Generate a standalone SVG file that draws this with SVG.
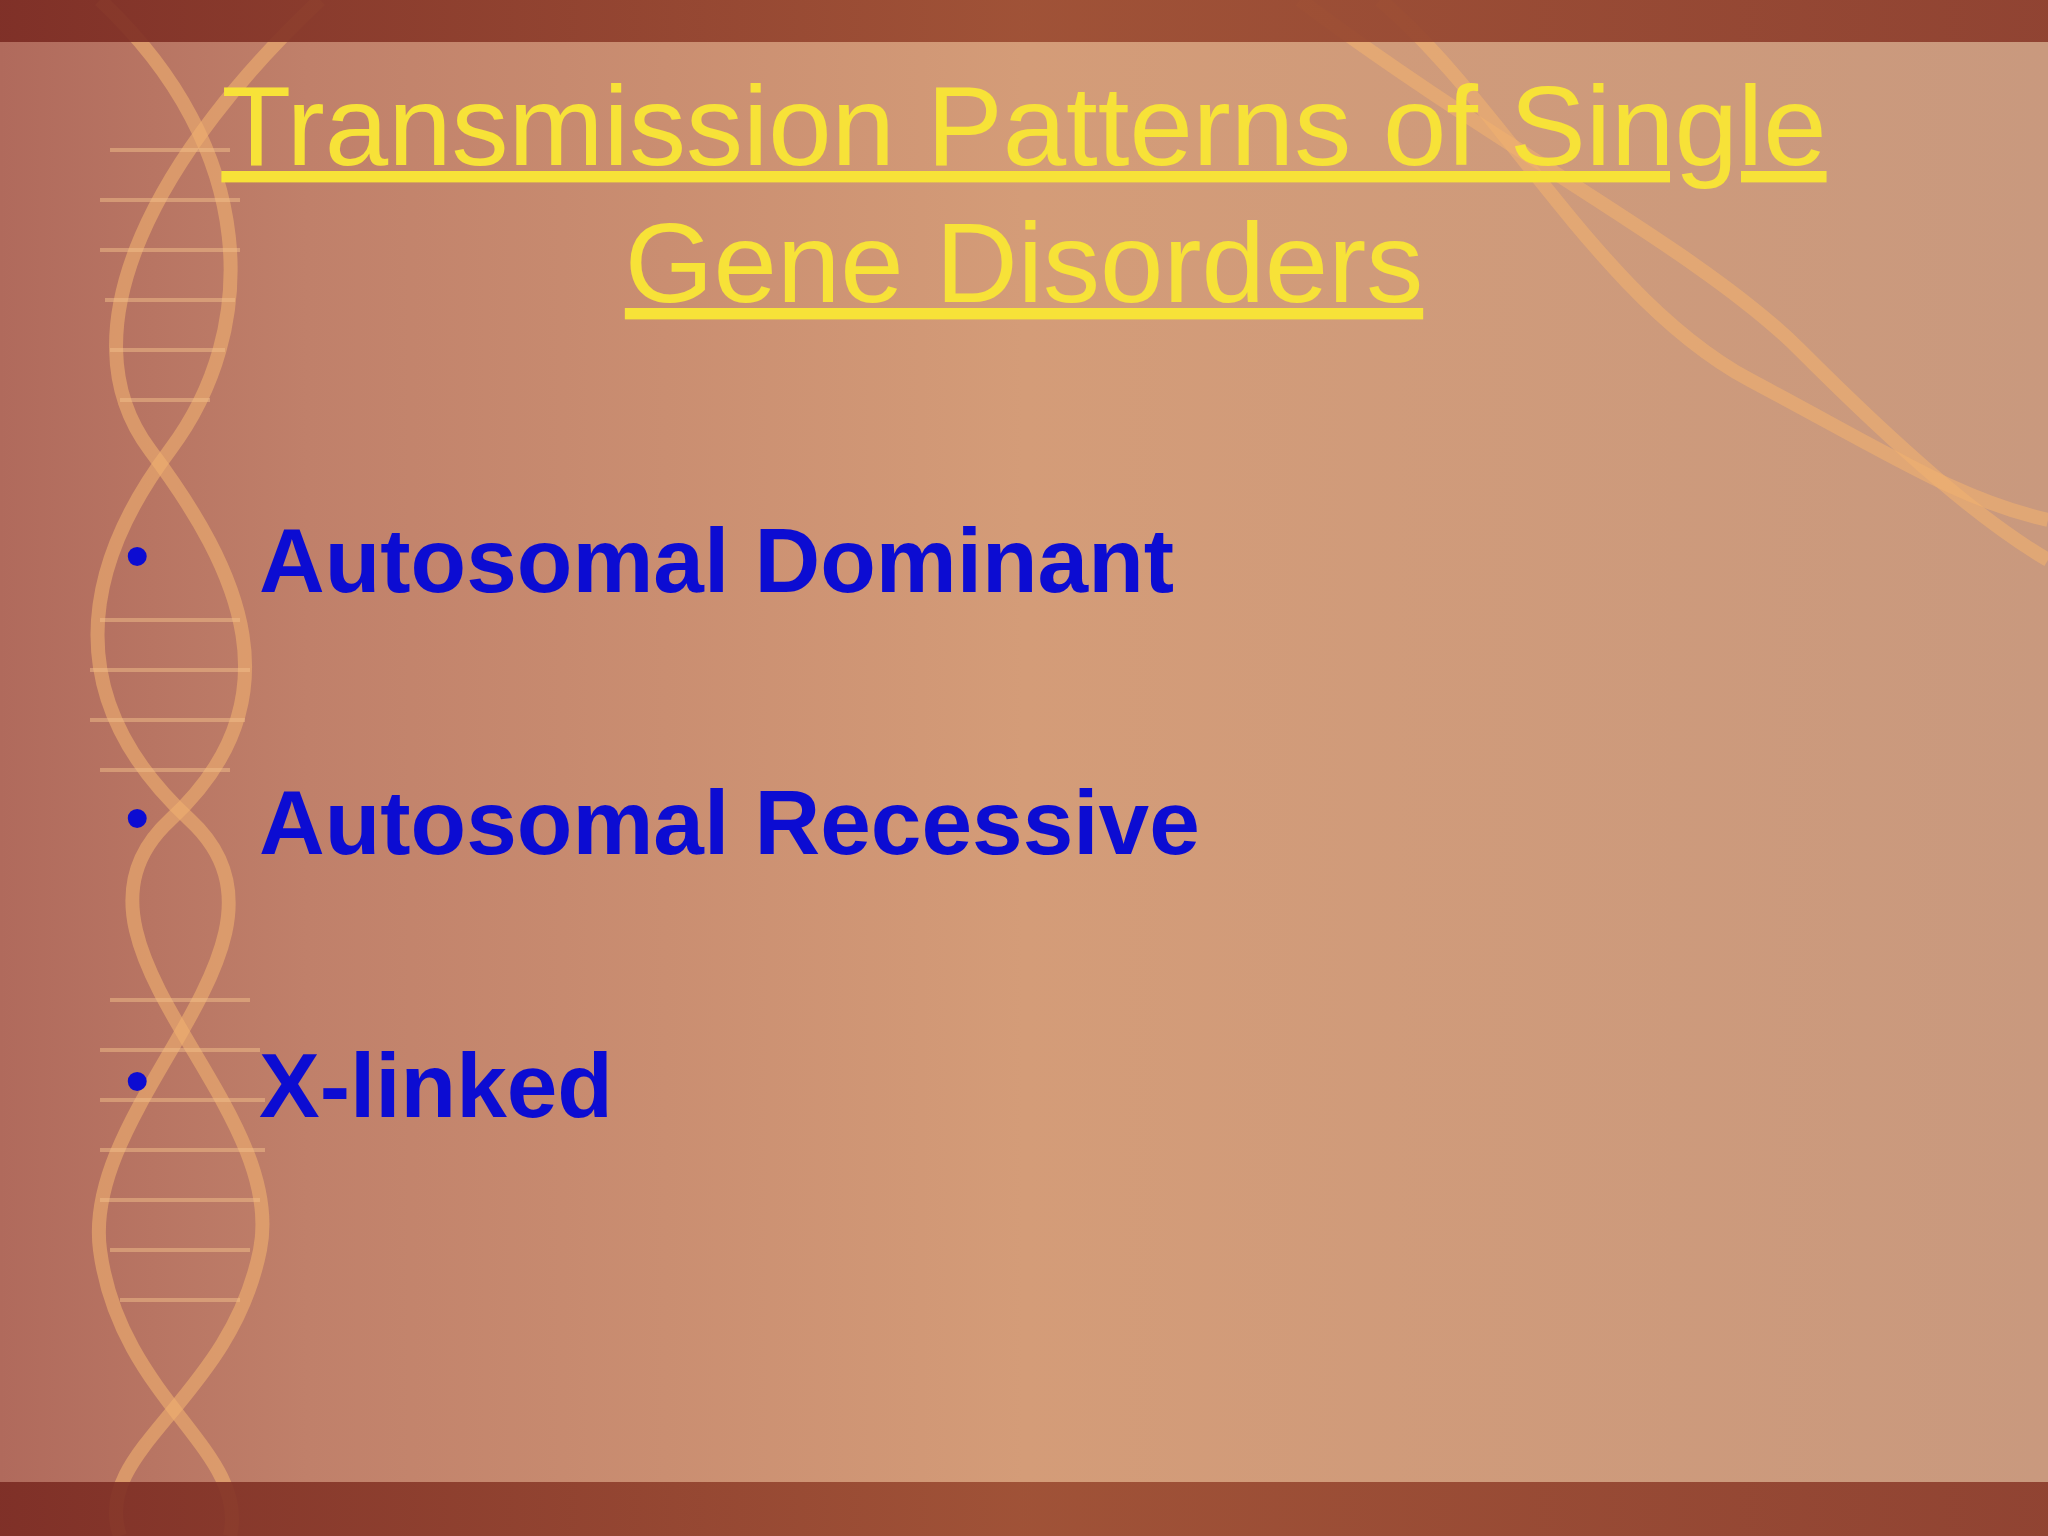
<svg xmlns="http://www.w3.org/2000/svg" width="2048" height="1536" viewBox="0 0 2048 1536">
<defs>
<linearGradient id="bg" x1="0" y1="0" x2="1" y2="0">
<stop offset="0" stop-color="#b06a5c"/><stop offset="0.15" stop-color="#c0806a"/><stop offset="0.5" stop-color="#d49c78"/><stop offset="1" stop-color="#c9997e"/>
</linearGradient>
<linearGradient id="bar" x1="0" y1="0" x2="1" y2="0">
<stop offset="0" stop-color="#7a2a22"/><stop offset="0.5" stop-color="#9a4a30"/><stop offset="1" stop-color="#8a3a2a"/>
</linearGradient>
<style>
.t{font-family:"Liberation Sans",Arial,sans-serif;font-size:114px;fill:#f7e238;text-decoration:underline;text-anchor:middle}
.b{font-family:"Liberation Sans",Arial,sans-serif;font-size:91px;font-weight:bold;fill:#0c0cd2}
.d{font-family:"Liberation Sans",Arial,sans-serif;font-size:70px;fill:#0c0cd2}
.strand{fill:none;stroke:#f0b070;stroke-width:14;opacity:0.6}
.rung{stroke:#f2c08a;stroke-width:4;opacity:0.5}
</style>
</defs>
<rect width="2048" height="1536" fill="url(#bg)"/>
<g id="helix">
<path class="strand" d="M100,0 C260,150 260,330 170,450 C80,570 60,700 190,820 C320,940 80,1100 100,1250 C120,1400 250,1450 230,1536"/>
<path class="strand" d="M320,0 C160,150 60,330 150,450 C240,570 300,700 170,820 C40,940 290,1100 260,1250 C230,1400 90,1450 120,1536"/>
<path class="strand" d="M1300,0 C1500,150 1700,250 1800,350 C1900,450 1980,520 2048,560" opacity="0.3"/>
<path class="strand" d="M1380,0 C1500,100 1600,300 1750,380 C1900,460 1960,500 2048,520" opacity="0.3"/>
<g class="rung">
<line x1="110" y1="150" x2="230" y2="150"/><line x1="100" y1="200" x2="240" y2="200"/><line x1="100" y1="250" x2="240" y2="250"/><line x1="105" y1="300" x2="235" y2="300"/><line x1="110" y1="350" x2="225" y2="350"/><line x1="120" y1="400" x2="210" y2="400"/>
<line x1="100" y1="620" x2="240" y2="620"/><line x1="90" y1="670" x2="250" y2="670"/><line x1="90" y1="720" x2="245" y2="720"/><line x1="100" y1="770" x2="230" y2="770"/>
<line x1="110" y1="1000" x2="250" y2="1000"/><line x1="100" y1="1050" x2="260" y2="1050"/><line x1="100" y1="1100" x2="265" y2="1100"/><line x1="100" y1="1150" x2="265" y2="1150"/><line x1="100" y1="1200" x2="260" y2="1200"/><line x1="110" y1="1250" x2="250" y2="1250"/><line x1="120" y1="1300" x2="240" y2="1300"/>
</g>
</g>
<rect x="0" y="0" width="2048" height="42" fill="url(#bar)" opacity="0.9"/>
<rect x="0" y="1482" width="2048" height="54" fill="url(#bar)" opacity="0.9"/>
<g id="title">
<text class="t" x="1024" y="165">Transmission Patterns of Single</text>
<text class="t" x="1024" y="302">Gene Disorders</text>
</g>
<g id="bullets">
<text class="d" x="125" y="580">•</text><text class="b" x="259" y="592">Autosomal Dominant</text>
<text class="d" x="125" y="842">•</text><text class="b" x="259" y="854">Autosomal Recessive</text>
<text class="d" x="125" y="1105">•</text><text class="b" x="259" y="1117">X-linked</text>
</g>
</svg>
